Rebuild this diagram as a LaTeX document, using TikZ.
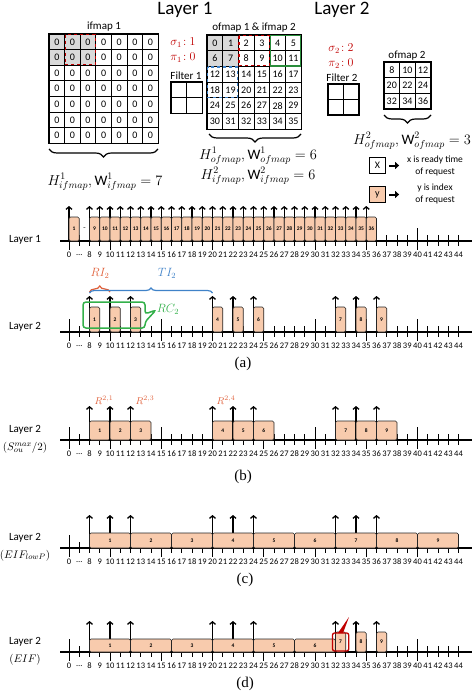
\documentclass[tikz,border=0pt]{standalone}
\usepackage{fontspec}
\setmainfont{Carlito}
\newfontfamily\capfont{Liberation Serif}
\usetikzlibrary{arrows.meta,decorations.pathreplacing}

\definecolor{peach}{HTML}{F8CBAD}
\definecolor{cellgray}{HTML}{D9D9D9}
\definecolor{sigred}{HTML}{C00000}
\definecolor{rired}{HTML}{E0603A}
\definecolor{tiblue}{HTML}{3F82C8}
\definecolor{rcgreen}{HTML}{33B04A}

\tikzset{
  cell/.style={draw=black, line width=0.8pt, minimum size=15.6pt, inner sep=0pt, font=\fontsize{10}{10}\selectfont},
  gridframe/.style={draw=black, line width=1.6pt},
  title/.style={font=\fontsize{19}{21}\selectfont, inner sep=0pt},
  maplab/.style={font=\fontsize{11}{12}\selectfont, inner sep=0pt},
  mathlab/.style={font=\fontsize{12}{13}\selectfont, inner sep=0pt},
  dimlab/.style={font=\fontsize{14.5}{15}\selectfont, inner sep=0pt},
  paramlab/.style={text=sigred, font=\fontsize{12}{13}\selectfont, inner sep=0pt},
  mapbrace/.style={decorate, decoration={brace, mirror, amplitude=8pt}, line width=1.2pt},
  axisline/.style={line width=1.4pt},
  tickline/.style={line width=1pt},
  ticklab/.style={font=\fontsize{8.5}{9}\selectfont, inner sep=0pt},
  reqbox/.style={draw=black!85, fill=peach, line width=0.6pt, rounded corners=1.5pt},
  boxlab/.style={font=\fontsize{5.5}{6}\selectfont\bfseries, inner sep=0pt},
  reqarr/.style={line width=1.3pt, -{Straight Barb[length=2.5pt,width=6pt]}},
  layerlab/.style={font=\fontsize{11}{18}\selectfont, align=center, inner sep=0pt},
  caption/.style={font=\capfont\fontsize{15}{17}\selectfont, inner sep=0pt},
  legtext/.style={font=\fontsize{9.5}{12}\selectfont, align=center, inner sep=0pt},
}

% x position of time n (n >= 8)
\newcommand{\tx}[1]{(69+10.25*(#1-6))}

% time axis: #1 y of axis, #2 name prefix
\newcommand{\tlaxis}[2]{%
  \draw[axisline] (60,#1) -- (472,#1);
  \foreach \i in {0,...,38}{
    \pgfmathtruncatemacro{\n}{\i+6}
    \pgfmathtruncatemacro{\istall}{or(\i==0, and(mod(\n,5)==0, \i>3))}
    \pgfmathsetmacro{\xx}{69+10.25*\i}
    \ifnum\istall=1
      \draw[tickline] (\xx,#1-13) -- (\xx,#1+9);
    \else
      \draw[tickline] (\xx,#1-6) -- (\xx,#1+5);
    \fi
    \ifnum\i=0
      \node[ticklab] (#2lab\i) at (\xx,#1+14) {0};
    \else\ifnum\i=1
      \node[ticklab] (#2lab\i) at (\xx,#1+14) {\ldots};
    \else
      \node[ticklab] (#2lab\i) at (\xx,#1+14) {\n};
    \fi\fi
  }
}

% request box: #1 axis y, #2 from, #3 to, #4 height, #5 text, #6 name prefix
\newcommand{\reqbox}[6]{%
  \draw[reqbox] ({\tx{#2}},#1) rectangle ({\tx{#3}},{#1-#4});
  \node[boxlab] (#6#5) at ({(\tx{#2}+\tx{#3})/2},{#1-#4/2}) {#5};
}

% ready arrow: #1 axis y, #2 time, #3 length
\newcommand{\reqarrow}[3]{%
  \draw[reqarr] ({\tx{#2}},#1) -- ({\tx{#2}},{#1-#3});
}

\begin{document}
\begin{tikzpicture}[x=1pt, y=-1pt]
  \useasboundingbox (0,0) rectangle (474,698);

  % titles
  \node[title] (lay1) at (185,10) {Layer 1};
  \node[title] (lay2) at (342,10) {Layer 2};

  % ifmap 1
  \node[maplab] (iflab) at (104,27) {ifmap 1};
  \foreach \r in {0,...,6}{
    \foreach \c in {0,...,6}{
      \pgfmathtruncatemacro{\g}{and(\r<2, \c<3)}
      \ifnum\g=1 \def\cf{cellgray}\else\def\cf{white}\fi
      \node[cell, fill=\cf] (if\r\c) at ({49+15.6*(\c+0.5)},{34+15.6*(\r+0.5)}) {0};
    }
  }
  \draw[gridframe] (if00.north west) rectangle (if66.south east);
  \draw[sigred, dashed, line width=1.3pt] ([shift={(1pt,-1pt)}]if01.north west) rectangle ([shift={(-1pt,1pt)}]if12.south east);
  \draw[mapbrace] (49,149) -- (158,149);
  \node[dimlab] (ifdim) at (105,182) {$H^1_{ifmap},\mathrm{W}^1_{ifmap}=7$};

  % layer 1 parameters and filter
  \node[paramlab] (sig1) at (183,43) {$\sigma_1\!: 1$};
  \node[paramlab] (pi1) at (183,58) {$\pi_1\!: 0$};
  \node[maplab] (flt1lab) at (186,76) {Filter 1};
  \foreach \r in {0,1}{
    \foreach \c in {0,1}{
      \node[cell] (fa\r\c) at ({171+15.5*(\c+0.5)},{82+15.5*(\r+0.5)}) {};
    }
  }
  \draw[gridframe] (fa00.north west) rectangle (fa11.south east);

  % ofmap 1 & ifmap 2
  \node[maplab] (oflab) at (254,28) {ofmap 1 \& ifmap 2};
  \foreach \r in {0,...,5}{
    \foreach \c in {0,...,5}{
      \pgfmathtruncatemacro{\v}{6*\r+\c}
      \pgfmathtruncatemacro{\g}{and(\r<2, \c<2)}
      \ifnum\g=1 \def\cf{cellgray}\else\def\cf{white}\fi
      \node[cell, minimum size=15.7pt, fill=\cf] (of\r\c) at ({207+15.7*(\c+0.5)},{35+15.7*(\r+0.5)}) {\v};
    }
  }
  \draw[gridframe] (of00.north west) rectangle (of55.south east);
  \draw[sigred, dashed, line width=1.3pt] ([shift={(1pt,-1pt)}]of02.north west) rectangle ([shift={(-1pt,1pt)}]of13.south east);
  \draw[rcgreen!80!black, line width=1.5pt] ([shift={(1pt,-1pt)}]of04.north west) rectangle ([shift={(-1pt,1pt)}]of15.south east);
  \draw[tiblue, dashed, line width=1.3pt] ([shift={(1pt,-1pt)}]of20.north west) rectangle ([shift={(-1pt,1pt)}]of31.south east);
  \draw[mapbrace] (209,134) -- (301,134);
  \node[dimlab] (ofdim1) at (258,156) {$H^1_{ofmap},\mathrm{W}^1_{ofmap}=6$};
  \node[dimlab] (ifdim2) at (258,176) {$H^2_{ifmap},\mathrm{W}^2_{ifmap}=6$};

  % layer 2 parameters and filter
  \node[paramlab] (sig2) at (341,49) {$\sigma_2\!: 2$};
  \node[paramlab] (pi2) at (341,64) {$\pi_2\!: 0$};
  \node[maplab] (flt2lab) at (342,78) {Filter 2};
  \foreach \r in {0,1}{
    \foreach \c in {0,1}{
      \node[cell, minimum size=15.3pt] (fb\r\c) at ({328+15.3*(\c+0.5)},{84+15.3*(\r+0.5)}) {};
    }
  }
  \draw[gridframe] (fb00.north west) rectangle (fb11.south east);

  % ofmap 2
  \node[maplab] (of2lab) at (407,56) {ofmap 2};
  \foreach \r in {0,1,2}{
    \foreach \c in {0,1,2}{
      \pgfmathtruncatemacro{\v}{8+12*\r+2*\c}
      \node[cell] (og\r\c) at ({384+15.6*(\c+0.5)},{62+15.6*(\r+0.5)}) {\v};
    }
  }
  \draw[gridframe] (og00.north west) rectangle (og22.south east);
  \draw[mapbrace] (384,115) -- (431,115);
  \node[dimlab] (ofdim2) at (412,141) {$H^2_{ofmap},\mathrm{W}^2_{ofmap}=3$};

  % legend
  \node[draw=black, line width=1.2pt, minimum size=16pt, inner sep=0pt, font=\fontsize{10}{10}\selectfont] (legx) at (377.5,165.5) {X};
  \draw[line width=2pt, -{Triangle[length=4pt,width=7pt]}] ([xshift=3pt]legx.east) -- ([xshift=13pt]legx.east);
  \node[legtext] (legxt) at (435,166) {x is ready time\\of request};
  \node[draw=black, fill=peach, line width=1.2pt, minimum size=16pt, inner sep=0pt, font=\fontsize{10}{10}\selectfont] (legy) at (377.5,194.5) {y};
  \draw[line width=2pt, -{Triangle[length=4pt,width=7pt]}] ([xshift=3pt]legy.east) -- ([xshift=13pt]legy.east);
  \node[legtext] (legyt) at (435,194) {y is index\\of request};

  % ---- (a) layer 1
  \node[layerlab] (t1) at (25,240) {Layer 1};
  \tlaxis{241}{ta}
  \draw[reqarr] (69,241) -- (69,206);
  \foreach \n in {8,...,35}{
    \reqarrow{241}{\n}{35}
  }
  \draw[reqbox] (69,241) rectangle (79.25,217);
  \node[boxlab] (a1b1) at (74.1,229) {1};
  \node[boxlab] (a1dots) at (84.4,229) {--};
  \foreach \k in {9,...,36}{
    \reqbox{241}{\k-1}{\k}{24}{\k}{a1b}
  }

  % ---- (a) layer 2
  \node[layerlab] (t2a) at (25,327) {Layer 2};
  \tlaxis{332}{tb}
  \foreach \n/\k in {8/1,10/2,12/3,20/4,22/5,24/6,32/7,34/8,36/9}{
    \reqarrow{332}{\n}{36}
    \reqbox{332}{\n}{\n+1}{25}{\k}{a2b}
  }
  % RI and TI braces
  \draw[rired, line width=1.2pt, decorate, decoration={brace, amplitude=6pt}] ({\tx{8}},292) -- ({\tx{10}},292);
  \node[text=rired, mathlab] (ri) at (100,273) {$RI_2$};
  \draw[tiblue, line width=1.2pt, decorate, decoration={brace, amplitude=5pt}] ({\tx{8}},293) -- ({\tx{20}},293);
  \node[text=tiblue, mathlab] (ti) at (167,273) {$TI_2$};
  % RC callout
  \draw[rcgreen, line width=1.5pt, rounded corners=3pt] (83,302) -- (145,302) -- (145,314) -- (156,310) -- (145,322) -- (145,328) -- (83,328) -- cycle;
  \node[text=rcgreen, mathlab] (rc) at (168,309) {$RC_2$};
  \node[caption] (capa) at (243,364) {(a)};

  % ---- (b)
  \node[layerlab] (t2b) at (25,439) {Layer 2\\$(S^{max}_{ou}/2)$};
  \tlaxis{440}{tc}
  \foreach \n/\k in {8/1,10/2,12/3,20/4,22/5,24/6,32/7,34/8,36/9}{
    \reqarrow{440}{\n}{34}
    \reqbox{440}{\n}{\n+2}{19}{\k}{bb}
  }
  \node[text=rired, font=\fontsize{10}{11}\selectfont, inner sep=0pt] (r21) at (104,400) {$R^{2,1}$};
  \node[text=rired, font=\fontsize{10}{11}\selectfont, inner sep=0pt] (r23) at (145,400) {$R^{2,3}$};
  \node[text=rired, font=\fontsize{10}{11}\selectfont, inner sep=0pt] (r24) at (226,400) {$R^{2,4}$};
  \node[caption] (capb) at (243,477) {(b)};

  % ---- (c)
  \node[layerlab] (t2c) at (25,547) {Layer 2\\$(EIF_{lowP})$};
  \tlaxis{548}{td}
  \foreach \n in {8,10,12,20,22,24,32,34,36}{
    \reqarrow{548}{\n}{33}
  }
  \foreach \k in {1,...,9}{
    \reqbox{548}{4+4*\k}{8+4*\k}{15}{\k}{cb}
  }
  \node[caption] (capc) at (245,580) {(c)};

  % ---- (d)
  \node[layerlab] (t2d) at (25,651) {Layer 2\\$(EIF)$};
  \tlaxis{652}{te}
  \foreach \n in {8,10,12,20,22,24,32,34,36}{
    \reqarrow{652}{\n}{31}
  }
  \foreach \k in {1,...,6}{
    \reqbox{652}{4+4*\k}{8+4*\k}{13}{\k}{db}
  }
  \foreach \n/\k in {32/7,34/8,36/9}{
    \reqbox{652}{\n}{\n+1}{20}{\k}{db}
  }
  % stall mark on request 7
  \draw[sigred, line width=1.3pt, rounded corners=2pt] ({\tx{32}-3},633) rectangle ({\tx{33}+3},651);
  \fill[sigred] (338,633) -- (349,617) -- (343,633) -- cycle;
  \node[caption] (capd) at (245,684) {(d)};
\end{tikzpicture}
\end{document}
